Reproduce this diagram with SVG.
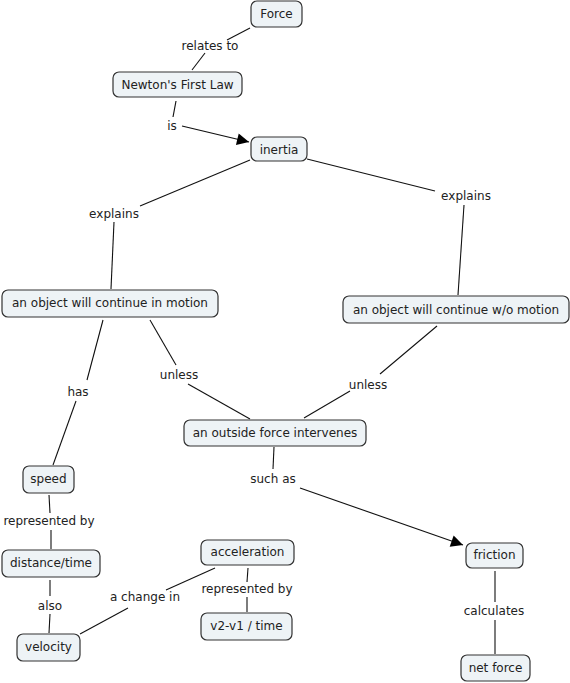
<svg xmlns="http://www.w3.org/2000/svg" width="570" height="683" viewBox="0 0 570 683">
<defs>
<style>
.n rect{fill:#eef3f6;stroke:#333;stroke-width:1.2}
text{font-family:"DejaVu Sans",Verdana,sans-serif;font-size:12px;fill:#222;text-anchor:middle;dominant-baseline:central}
.c line{stroke:#111;stroke-width:1.1}
</style>
<marker id="ah" viewBox="0 0 10 10" refX="10" refY="5" markerWidth="16" markerHeight="12" markerUnits="userSpaceOnUse" orient="auto"><path d="M0,0L10,5L0,10z" fill="#000"/></marker>
</defs>
<rect width="570" height="683" fill="#fff"/>
<g id="connectors" class="c">
<line x1="250" y1="28" x2="227" y2="40"/>
<line x1="205" y1="53" x2="192" y2="70"/>
<line x1="176" y1="101" x2="173" y2="117"/>
<line x1="182" y1="126" x2="249" y2="142" marker-end="url(#ah)"/>
<line x1="250" y1="160" x2="140" y2="206"/>
<line x1="114" y1="222" x2="111" y2="289"/>
<line x1="307" y1="159" x2="435" y2="191"/>
<line x1="464" y1="205" x2="458" y2="295"/>
<line x1="103" y1="320" x2="87" y2="380"/>
<line x1="76" y1="401" x2="53" y2="465"/>
<line x1="150" y1="320" x2="176" y2="365"/>
<line x1="188" y1="384" x2="250" y2="419"/>
<line x1="437" y1="326" x2="380" y2="374"/>
<line x1="350" y1="391" x2="304" y2="418"/>
<line x1="274" y1="447" x2="273" y2="469"/>
<line x1="300" y1="488" x2="463" y2="545" marker-end="url(#ah)"/>
<line x1="49" y1="495" x2="50" y2="513"/>
<line x1="51" y1="530" x2="51" y2="549"/>
<line x1="50" y1="580" x2="50" y2="596"/>
<line x1="50" y1="614" x2="49" y2="633"/>
<line x1="80" y1="634" x2="128" y2="608"/>
<line x1="166" y1="590" x2="215" y2="568"/>
<line x1="248" y1="568" x2="247" y2="582"/>
<line x1="247" y1="597" x2="247" y2="612"/>
<line x1="495" y1="571" x2="495" y2="602"/>
<line x1="495" y1="620" x2="495" y2="654"/>
</g>
<g id="labels">
<text x="210" y="46">relates to</text>
<text x="172" y="126">is</text>
<text x="114" y="214">explains</text>
<text x="466" y="196">explains</text>
<text x="179" y="375">unless</text>
<text x="368" y="385">unless</text>
<text x="78" y="392">has</text>
<text x="273" y="479">such as</text>
<text x="49" y="521">represented by</text>
<text x="50" y="606">also</text>
<text x="145" y="597">a change in</text>
<text x="247" y="589">represented by</text>
<text x="494" y="611">calculates</text>
</g>
<g id="force" class="n"><rect x="251" y="1" width="51" height="26" rx="6"/><text x="276.5" y="14">Force</text></g>
<g id="newton" class="n"><rect x="113" y="72" width="129" height="25" rx="6"/><text x="177.5" y="85">Newton's First Law</text></g>
<g id="inertia" class="n"><rect x="251" y="137" width="56" height="24" rx="6"/><text x="279" y="149.5">inertia</text></g>
<g id="motion" class="n"><rect x="2" y="290" width="216" height="27" rx="6"/><text x="110" y="303">an object will continue in motion</text></g>
<g id="nomotion" class="n"><rect x="343" y="296" width="226" height="27" rx="6"/><text x="456" y="309.5">an object will continue w/o motion</text></g>
<g id="outside" class="n"><rect x="184" y="420" width="182" height="26" rx="6"/><text x="275" y="433">an outside force intervenes</text></g>
<g id="speed" class="n"><rect x="23" y="466" width="51" height="27" rx="6"/><text x="48.5" y="479">speed</text></g>
<g id="distance" class="n"><rect x="2" y="550" width="98" height="27" rx="6"/><text x="51" y="563">distance/time</text></g>
<g id="velocity" class="n"><rect x="17" y="634" width="63" height="27" rx="6"/><text x="48.5" y="647">velocity</text></g>
<g id="acceleration" class="n"><rect x="201" y="540" width="93" height="25" rx="6"/><text x="247.5" y="552">acceleration</text></g>
<g id="v2v1" class="n"><rect x="201" y="613" width="91" height="27" rx="6"/><text x="246.5" y="626">v2-v1 / time</text></g>
<g id="friction" class="n"><rect x="466" y="543" width="57" height="25" rx="6"/><text x="494.5" y="555">friction</text></g>
<g id="netforce" class="n"><rect x="461" y="655" width="69" height="26" rx="6"/><text x="495.5" y="668">net force</text></g>
</svg>
